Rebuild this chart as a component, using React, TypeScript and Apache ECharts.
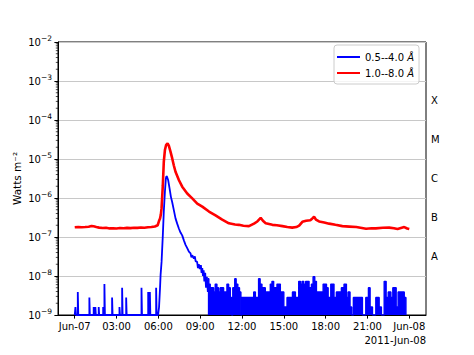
import React, { useEffect, useRef } from 'react';
import * as echarts from 'echarts';

const FLOOR = 1e-9;
const X_MIN = -1.2;
const X_MAX = 25.2;

const xTickValues = [0, 3, 6, 9, 12, 15, 18, 21, 24];
const xTickLabels = ['Jun-07', '03:00', '06:00', '09:00', '12:00', '15:00', '18:00', '21:00', 'Jun-08'];
const classLabels = ['A', 'B', 'C', 'M', 'X'];
const classPositions = [-7.5, -6.5, -5.5, -4.5, -3.5];
const dateLabel = '2011-Jun-08';
const shortName = '0.5--4.0 Å';
const longName = '1.0--8.0 Å';

// 1.0--8.0 Å channel [hour, W m^-2]
const longChannel: [number, number][] = [
  [0.0, 1.78e-7], [0.25, 1.81e-7], [0.5, 1.77e-7], [0.75, 1.8e-7], [1.0, 1.84e-7], [1.2, 1.92e-7],
  [1.35, 1.88e-7], [1.55, 1.8e-7], [1.75, 1.74e-7], [2.0, 1.7e-7], [2.25, 1.72e-7], [2.5, 1.66e-7],
  [2.75, 1.68e-7], [3.0, 1.65e-7], [3.25, 1.7e-7], [3.5, 1.68e-7], [3.75, 1.71e-7], [4.0, 1.69e-7],
  [4.25, 1.73e-7], [4.5, 1.71e-7], [4.75, 1.75e-7], [5.0, 1.73e-7], [5.25, 1.78e-7], [5.5, 1.8e-7],
  [5.75, 1.86e-7], [5.95, 2.0e-7], [6.05, 2.6e-7], [6.12, 3.0e-7], [6.18, 3.8e-7], [6.23, 5.5e-7],
  [6.32, 2.1e-6], [6.39, 8.5e-6], [6.47, 1.7e-5], [6.56, 2.3e-5], [6.66, 2.5e-5], [6.75, 2.2e-5],
  [6.87, 1.55e-5], [6.99, 1.05e-5], [7.11, 6.8e-6], [7.23, 4.7e-6], [7.47, 2.9e-6], [7.71, 1.95e-6],
  [8.07, 1.3e-6], [8.43, 9.8e-7], [8.79, 7.2e-7], [9.15, 6.0e-7], [9.63, 4.5e-7], [10.1, 3.6e-7],
  [10.58, 2.8e-7], [11.06, 2.25e-7], [11.5, 2.1e-7], [11.78, 2.05e-7], [12.1, 1.95e-7], [12.5, 1.9e-7],
  [12.86, 2.2e-7], [13.1, 2.5e-7], [13.34, 3.1e-7], [13.5, 2.6e-7], [13.7, 2.25e-7], [14.18, 2.05e-7],
  [14.5, 2.0e-7], [14.9, 1.9e-7], [15.25, 1.8e-7], [15.6, 1.74e-7], [15.9, 1.8e-7], [16.1, 1.95e-7],
  [16.33, 2.45e-7], [16.6, 2.6e-7], [16.9, 2.7e-7], [17.05, 3.0e-7], [17.17, 3.3e-7], [17.3, 2.8e-7],
  [17.53, 2.5e-7], [17.9, 2.35e-7], [18.25, 2.2e-7], [18.7, 2.05e-7], [19.2, 1.9e-7], [19.7, 1.85e-7],
  [20.2, 1.8e-7], [20.6, 1.7e-7], [20.9, 1.62e-7], [21.3, 1.68e-7], [21.6, 1.66e-7], [22.1, 1.72e-7],
  [22.56, 1.74e-7], [22.9, 1.68e-7], [23.16, 1.6e-7], [23.4, 1.7e-7], [23.64, 1.8e-7], [23.85, 1.65e-7],
  [24.0, 1.6e-7],
];

// 0.5--4.0 Å channel: isolated quiet-time spikes [hour, W m^-2]
const shortQuietSpikes: [number, number][] = [
  [0.05, 1.6e-9], [0.22, 3.9e-9], [1.05, 2.8e-9], [1.36, 1.6e-9], [1.48, 1.6e-9], [1.72, 1.6e-9],
  [2.04, 1.6e-9], [2.13, 6.2e-9], [2.68, 2.8e-9], [3.21, 1.6e-9], [3.4, 5.0e-9], [3.69, 2.8e-9],
  [4.79, 5.0e-9], [5.27, 3.9e-9], [5.39, 3.9e-9], [5.84, 5.0e-9],
];

// 0.5--4.0 Å channel: flare profile [hour, W m^-2]
const shortFlare: [number, number][] = [
  [5.98, 1e-9], [6.05, 1.6e-9], [6.12, 5e-9], [6.16, 1.07e-8], [6.23, 2.3e-8], [6.32, 1.1e-7],
  [6.39, 4.5e-7], [6.47, 1.45e-6], [6.54, 3.2e-6], [6.58, 3.6e-6], [6.62, 3.5e-6], [6.7, 2.9e-6],
  [6.8, 1.8e-6], [6.9, 1.07e-6], [6.99, 7.9e-7], [7.11, 4.9e-7], [7.23, 3.0e-7], [7.35, 2.2e-7],
  [7.47, 1.65e-7], [7.59, 1.3e-7], [7.71, 1.1e-7], [7.83, 8.2e-8], [7.95, 6.3e-8], [8.07, 5.2e-8],
  [8.19, 4.2e-8], [8.31, 3.8e-8], [8.37, 3.0e-8], [8.43, 3.4e-8], [8.55, 2.8e-8], [8.62, 3.2e-8],
  [8.67, 2.4e-8], [8.78, 2.3e-8], [8.84, 1.6e-8], [8.9, 2.0e-8], [8.97, 1.5e-8], [9.05, 1.9e-8],
  [9.1, 1.2e-8], [9.15, 1.6e-8], [9.2, 1.0e-8], [9.25, 1.4e-8], [9.3, 7.3e-9], [9.36, 1.2e-8],
  [9.42, 5.0e-9], [9.48, 9.6e-9], [9.55, 3.9e-9],
];

// 0.5--4.0 Å channel: noisy post-flare envelope [hour, W m^-2]
const shortNoise: [number, number][] = [
  [9.55, 8.5e-9], [9.62, 6.2e-9], [9.72, 5.0e-9], [9.84, 5.0e-9], [9.96, 3.9e-9], [10.08, 6.2e-9],
  [10.2, 5.0e-9], [10.32, 3.9e-9], [10.44, 5.0e-9], [10.56, 5.0e-9], [10.68, 3.9e-9], [10.8, 3.9e-9],
  [10.92, 6.2e-9], [11.04, 5.0e-9], [11.16, 2.8e-9], [11.26, 1e-9], [11.34, 5.0e-9], [11.48, 8.5e-9],
  [11.58, 6.2e-9], [11.7, 5.0e-9], [11.82, 3.9e-9], [11.92, 1e-9], [11.98, 2.8e-9], [12.84, 3.9e-9],
  [12.96, 2.8e-9], [13.19, 8.5e-9], [13.3, 6.2e-9], [13.43, 5.0e-9], [13.67, 3.9e-9], [14.03, 6.2e-9],
  [14.15, 7.3e-9], [14.27, 5.0e-9], [14.51, 6.2e-9], [14.75, 3.9e-9], [15.0, 1.6e-9], [15.23, 2.8e-9],
  [15.62, 3.9e-9], [15.83, 2.8e-9], [16.07, 7.3e-9], [16.19, 6.2e-9], [16.31, 7.3e-9], [16.43, 6.2e-9],
  [16.57, 7.3e-9], [16.81, 5.0e-9], [16.98, 6.2e-9], [17.1, 9.6e-9], [17.22, 7.3e-9], [17.34, 3.9e-9],
  [17.82, 6.2e-9], [18.06, 5.0e-9], [18.18, 2.8e-9], [18.37, 6.2e-9], [18.6, 2.8e-9], [18.77, 3.9e-9],
  [19.13, 5.0e-9], [19.32, 6.2e-9], [19.49, 2.8e-9], [19.61, 3.9e-9], [19.75, 1.6e-9], [19.87, 1e-9],
  [19.99, 2.8e-9], [20.64, 1e-9], [20.88, 2.8e-9], [21.07, 5.0e-9], [21.19, 1.6e-9], [21.36, 1e-9],
  [21.6, 2.8e-9], [21.84, 1.6e-9], [22.0, 1e-9], [22.2, 7.3e-9], [22.34, 2.8e-9], [22.49, 3.9e-9],
  [22.68, 2.8e-9], [22.82, 5.0e-9], [23.06, 1.6e-9], [23.2, 3.9e-9], [23.64, 2.8e-9], [23.76, 1e-9],
];

const minorTickValues: number[] = [];
for (let e = -9; e < -2; e++) {
  for (let m = 2; m <= 9; m++) minorTickValues.push(m * Math.pow(10, e));
}

function buildShortLine(): [number, number][] {
  const pts: [number, number][] = [[0, FLOOR]];
  for (const [t, v] of shortQuietSpikes) {
    pts.push([t, FLOOR], [t, v], [t + 0.035, v], [t + 0.035, FLOOR]);
  }
  for (const p of shortFlare) pts.push(p);
  return pts;
}

const FONT = 'DejaVu Sans';

export default function App() {
  const ref = useRef<HTMLDivElement>(null);
  useEffect(() => {
    if (!ref.current) return;
    const chart = echarts.init(ref.current, undefined, { renderer: 'svg' });
    chart.setOption({
      animation: false,
      textStyle: { fontFamily: FONT, color: '#000' },
      grid: { left: 58, right: 48, top: 42, bottom: 40, show: true, borderColor: '#000', borderWidth: 1, containLabel: false },
      legend: {
        data: [shortName, longName],
        orient: 'vertical',
        left: 334,
        top: 45,
        icon: 'rect',
        itemWidth: 23,
        itemHeight: 2,
        itemGap: 4,
        padding: [6, 5, 5, 3],
        borderColor: '#cccccc',
        borderWidth: 1,
        borderRadius: 3,
        backgroundColor: 'rgba(255,255,255,0.8)',
        selectedMode: false,
        formatter: (name: string) => `{n|${name.replace(' Å', ' ')}}{a|Å}`,
        textStyle: {
          fontFamily: FONT,
          fontSize: 10,
          lineHeight: 12,
          color: '#000',
          rich: {
            n: { fontFamily: FONT, fontSize: 10, color: '#000' },
            a: { fontFamily: FONT, fontSize: 10, fontStyle: 'italic', color: '#000' },
          },
        },
      },
      xAxis: {
        type: 'value',
        min: X_MIN,
        max: X_MAX,
        axisLine: { show: true, onZero: false, lineStyle: { color: '#000', width: 1 } },
        axisTick: { show: true, customValues: xTickValues, length: 3.6, lineStyle: { color: '#000' } },
        axisLabel: {
          customValues: xTickValues,
          margin: 6,
          fontFamily: FONT,
          fontSize: 10,
          color: '#000',
          formatter: (v: number) => {
            const i = xTickValues.indexOf(Math.round(v));
            return i >= 0 ? xTickLabels[i] : '';
          },
        },
        splitLine: { show: false },
      },
      yAxis: [
        {
          type: 'log',
          logBase: 10,
          min: 1e-9,
          max: 1e-2,
          name: 'Watts m⁻²',
          nameLocation: 'middle',
          nameGap: 36,
          nameMoveOverlap: false,
          nameRotate: 90,
          nameTextStyle: { fontFamily: FONT, fontSize: 10.5, color: '#000' },
          axisLine: { show: true, onZero: false, lineStyle: { color: '#000', width: 1 } },
          axisTick: { show: true, length: 3.6, lineStyle: { color: '#000' } },
          axisLabel: {
            margin: 6,
            color: '#000',
            formatter: (v: number) => {
              const e = Math.round(Math.log10(v));
              return `{b|10}{s|−${-e}}`;
            },
            rich: {
              b: { fontFamily: FONT, fontSize: 10, color: '#000' },
              s: { fontFamily: FONT, fontSize: 7.5, color: '#000', padding: [0, 0, 8, 0] },
            },
          },
          splitLine: { show: true, lineStyle: { color: '#c8c8c8', width: 1 } },
        },
        {
          type: 'value',
          position: 'right',
          min: -9,
          max: -2,
          interval: 0.5,
          axisLine: { show: false, onZero: false },
          axisTick: { show: false },
          splitLine: { show: false },
          axisLabel: {
            margin: 5,
            fontFamily: FONT,
            fontSize: 10,
            color: '#000',
            formatter: (v: number) => {
              const i = classPositions.indexOf(v);
              return i >= 0 ? classLabels[i] : '';
            },
          },
        },
      ],
      graphic: [
        {
          type: 'text',
          right: 48,
          top: 335,
          style: { text: dateLabel, fontFamily: FONT, fontSize: 10, fill: '#000' },
        },
      ],
      series: [
        {
          name: shortName,
          type: 'line',
          data: buildShortLine(),
          symbol: 'none',
          lineStyle: { color: '#0000ff', width: 1.8 },
          itemStyle: { color: '#0000ff' },
          z: 3,
        },
        {
          name: shortName,
          type: 'line',
          data: shortNoise,
          step: 'end',
          symbol: 'none',
          lineStyle: { color: '#0000ff', width: 1.4 },
          itemStyle: { color: '#0000ff' },
          areaStyle: { color: '#0000ff', opacity: 1, origin: 'start' },
          z: 3,
        },
        {
          name: longName,
          type: 'line',
          data: longChannel,
          symbol: 'none',
          lineStyle: { color: '#ff0000', width: 2.6 },
          itemStyle: { color: '#ff0000' },
          z: 4,
        },
        {
          type: 'custom',
          silent: true,
          clip: false,
          data: minorTickValues.map((v) => [X_MIN, v]),
          renderItem: (_p: any, api: any) => {
            const pt = api.coord([api.value(0), api.value(1)]);
            return {
              type: 'line',
              shape: { x1: pt[0] - 2.2, y1: pt[1], x2: pt[0], y2: pt[1] },
              style: { stroke: '#000', lineWidth: 0.7 },
            };
          },
          z: 5,
        },
      ],
    });
    return () => chart.dispose();
  }, []);
  return <div ref={ref} style={{ position: 'absolute', left: 0, top: 0, width: 474, height: 355 }} />;
}
